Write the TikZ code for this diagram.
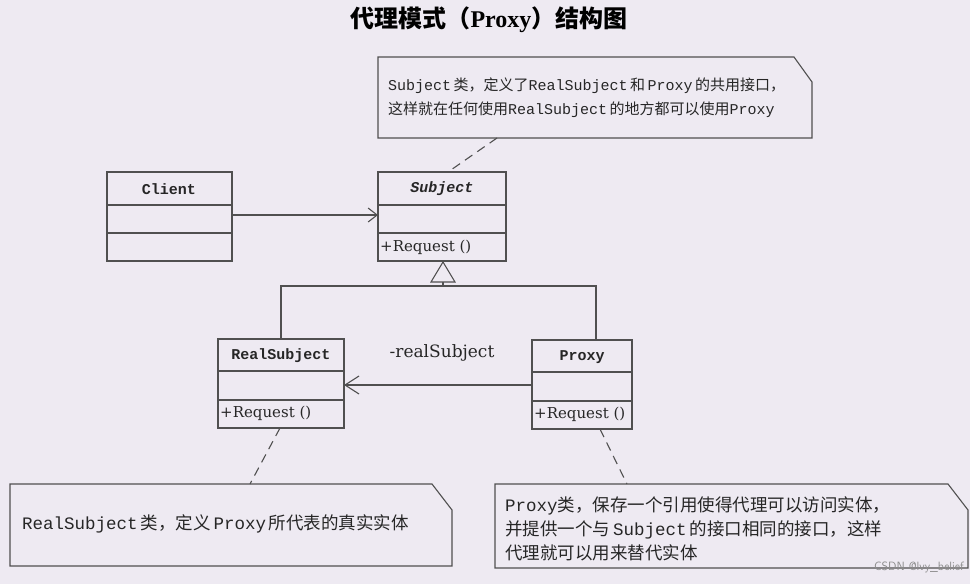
\documentclass[tikz,border=0pt]{standalone}
\usepackage{fontspec}
\setmainfont{Liberation Serif}
\setmonofont{Liberation Mono}
\newfontfamily\cjk{Noto Sans CJK SC}
\newfontfamily\dvs{DejaVu Serif}
\usetikzlibrary{arrows.meta}
\definecolor{bg}{HTML}{EEEAF2}
\definecolor{ln}{HTML}{505050}
\tikzset{
 x=1pt,y=-1pt,
 edge/.style={draw=ln,line width=1.1pt},
 lbl/.style={inner sep=0pt,anchor=west,font=\dvs\fontsize{15}{17}\selectfont,text=black!85},
 cname/.style={inner sep=0pt,font=\ttfamily\bfseries\fontsize{15}{17}\selectfont,text=black!85},
 notetxt/.style={inner sep=0pt,anchor=west,font=\fontsize{15}{24}\selectfont,text=black!85,align=left},
 bignote/.style={notetxt,font=\fontsize{17.5}{24}\selectfont},
}
\begin{document}
\begin{tikzpicture}
\fill[bg] (0,0) rectangle (970,584);
\useasboundingbox (0,0) rectangle (970,584);
\node[inner sep=0pt,font=\cjk\bfseries\fontsize{24}{26}\selectfont] (title) at (489,20) {代理模式（\textrm{\bfseries Proxy}）结构图};
% top note
\draw[edge] (378,57) -- (794,57) -- (812,82) -- (812,138) -- (378,138) -- cycle;
\coordinate (n1) at (497,138);
\node[notetxt] (t1) at (388,86) {\texttt{Subject}\,{\cjk 类，定义了}\texttt{RealSubject}\,{\cjk 和}\,\texttt{Proxy}\,{\cjk 的共用接口，}};
\node[notetxt] (t1b) at (388,110) {{\cjk 这样就在任何使用}\texttt{RealSubject}\,{\cjk 的地方都可以使用}\texttt{Proxy}};
% Subject
\draw[edge] (378,172) rectangle (506,261);
\draw[edge] (378,205) -- (506,205) (378,233) -- (506,233);
\node[cname,font=\ttfamily\itshape\bfseries\fontsize{15}{17}\selectfont] (subj) at (442,189) {Subject};
\node[lbl] at (380,247) {+Request ()};
% Client
\draw[edge] (107,172) rectangle (232,261);
\draw[edge] (107,205) -- (232,205) (107,233) -- (232,233);
\node[cname] (client) at (169,189) {Client};
% RealSubject
\draw[edge] (218,339) rectangle (344,428);
\draw[edge] (218,371) -- (344,371) (218,400) -- (344,400);
\node[cname] (rs) at (281,356) {RealSubject};
\node[lbl] at (220,413) {+Request ()};
% Proxy
\draw[edge] (532,340) rectangle (632,429);
\draw[edge] (532,372) -- (632,372) (532,401) -- (632,401);
\node[cname] (px) at (582,357) {Proxy};
\node[lbl] at (534,414) {+Request ()};
% association client->subject
\draw[edge,-{Straight Barb[length=9pt,width=14pt]}] (232,215) -- (378,215);
% generalization
\draw[edge] (281,339) -- (281,286) -- (596,286) -- (596,340);
\draw[edge] (443,286) -- (443,282);
\draw[edge,fill=bg] (443,262) -- (455,282) -- (431,282) -- cycle;
% proxy->realsubject
\draw[edge,-{Straight Barb[length=14pt,width=18pt]}] (532,385) -- (344,385);
\node[inner sep=0pt,font=\dvs\fontsize{17}{19}\selectfont,text=black!85] (rl) at (442,353) {-realSubject};
% dashed note links
\draw[edge,dash pattern=on 9pt off 6pt] (n1) -- (448,172);
\draw[edge,dash pattern=on 9pt off 6pt] (280,428) -- (250,484);
\draw[edge,dash pattern=on 9pt off 6pt] (600,429) -- (627,484);
% bottom left note
\draw[edge] (10,484) -- (432,484) -- (452,510) -- (452,566) -- (10,566) -- cycle;
\node[bignote] (t2) at (22,524) {\texttt{RealSubject}\,{\cjk 类，定义}\,\texttt{Proxy}\,{\cjk 所代表的真实实体}};
% bottom right note
\draw[edge] (495,484) -- (948,484) -- (968,510) -- (968,568) -- (495,568) -- cycle;
\node[bignote] (t3) at (505,529) {\texttt{Proxy}{\cjk 类，保存一个引用使得代理可以访问实体，}\\{\cjk 并提供一个与}\,\texttt{Subject}\,{\cjk 的接口相同的接口，这样}\\{\cjk 代理就可以用来替代实体}};
\node[inner sep=0pt,anchor=east,font=\sffamily\fontsize{12}{14}\selectfont,text=black!45] (wm) at (964,567) {CSDN @lvy\_belief};
\end{tikzpicture}
\end{document}
